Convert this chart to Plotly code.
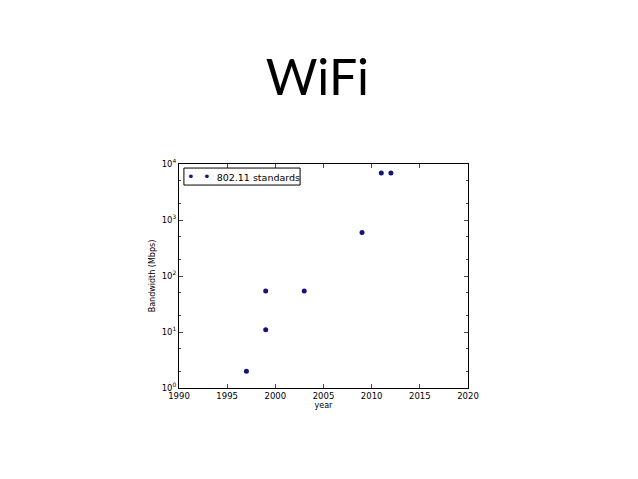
import plotly.graph_objects as go

# 802.11 standards: year vs bandwidth (Mbps)
years = [1997, 1999, 1999, 2003, 2009, 2011, 2012]
bandwidth = [2, 11, 54, 54, 600, 6900, 6933]

x_ticks = [1990, 1995, 2000, 2005, 2010, 2015, 2020]
y_ticks = [1, 10, 100, 1000, 10000]
y_labels = ["10<sup>0</sup>", "10<sup>1</sup>", "10<sup>2</sup>", "10<sup>3</sup>", "10<sup>4</sup>"]
series_name = '802.11 standards'
dot_color = '#14147f'

fig = go.Figure()
fig.add_trace(go.Scatter(
    x=years, y=bandwidth,
    mode='markers',
    name=series_name,
    marker=dict(size=5, color=dot_color)
))

fig.update_layout(
    width=638, height=479,
    margin=dict(l=171, r=178, t=156, b=99),
    paper_bgcolor='white', plot_bgcolor='white',
    font=dict(family='DejaVu Sans', size=8.5, color='black'),
    title=dict(text='WiFi', x=0.485, xanchor='center', y=0.855, yanchor='middle',
               font=dict(family='Lato', size=50, color='black')),
    showlegend=False,
)

# matplotlib-style legend box with two sample dots
fig.add_shape(type='rect', xref='x domain', yref='y domain',
              x0=0.017, x1=0.419, y0=0.906, y1=0.982,
              line=dict(color='black', width=1), fillcolor='white', layer='above')
fig.add_annotation(xref='x domain', yref='y domain', x=0.022, y=0.944,
                   xanchor='left', yanchor='middle', showarrow=False,
                   text=(f"<span style='color:{dot_color};font-size:13px'>•&nbsp;&nbsp;•</span>"
                         f"&nbsp;&nbsp;{series_name}"),
                   font=dict(size=9.5, color='black'))

fig.update_xaxes(
    range=[1990, 2020], tickvals=x_ticks,
    ticks='inside', ticklen=4, mirror='allticks',
    showline=True, linecolor='black', linewidth=1, showgrid=False,
    title=dict(text='year', standoff=0, font=dict(size=8))
)
fig.update_yaxes(
    type='log', range=[0, 4], tickvals=y_ticks, ticktext=y_labels,
    ticks='inside', ticklen=4, mirror='allticks',
    showline=True, linecolor='black', linewidth=1, showgrid=False,
    minor=dict(ticks='inside', ticklen=2, dtick='D2', showgrid=False),
    title=dict(text='Bandwidth (Mbps)', standoff=4, font=dict(size=8))
)

fig.write_html("out.html")
